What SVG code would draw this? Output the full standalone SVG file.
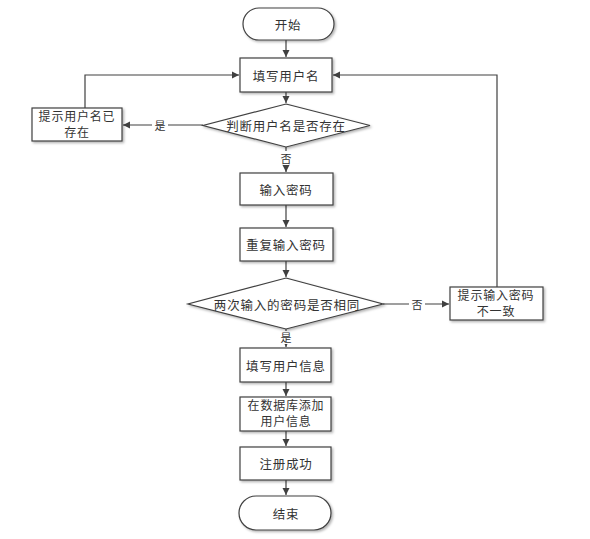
<svg xmlns="http://www.w3.org/2000/svg" width="590" height="539" viewBox="0 0 590 539">
<defs>
<marker id="arr" markerWidth="8" markerHeight="8" refX="7" refY="4" orient="auto" markerUnits="userSpaceOnUse">
<path d="M0,0.5 L7,4 L0,7.5 Z" fill="#404040"/>
</marker>
<filter id="sh" x="-10%" y="-10%" width="130%" height="140%">
<feDropShadow dx="1.5" dy="1.5" stdDeviation="0.8" flood-color="#000" flood-opacity="0.3"/>
</filter>
</defs>
<style>
.n{fill:#fff;stroke:#404040;stroke-width:1.2;filter:url(#sh)}
.t{font-family:"Noto Sans CJK SC","Liberation Sans",sans-serif;font-size:12.5px;fill:#333;text-anchor:middle;dominant-baseline:central;letter-spacing:0.8px}
.t2{font-family:"Noto Sans CJK SC","Liberation Sans",sans-serif;font-size:12px;fill:#333;text-anchor:middle;letter-spacing:0.8px}
.l{font-family:"Noto Sans CJK SC","Liberation Sans",sans-serif;font-size:11px;fill:#333;text-anchor:middle;dominant-baseline:central}
.c{fill:none;stroke:#404040;stroke-width:1.2}
</style>
<rect width="590" height="539" fill="#fff"/>
<g id="connectors">
<path class="c" d="M286,40 V57" marker-end="url(#arr)"/>
<path class="c" d="M286,92 V103" marker-end="url(#arr)"/>
<path class="c" d="M203,125 H123" marker-end="url(#arr)"/>
<path class="c" d="M85,108 V75 H239" marker-end="url(#arr)"/>
<path class="c" d="M286,147 V172" marker-end="url(#arr)"/>
<path class="c" d="M286,205 V227" marker-end="url(#arr)"/>
<path class="c" d="M286,261 V277" marker-end="url(#arr)"/>
<path class="c" d="M383,304 H449" marker-end="url(#arr)"/>
<path class="c" d="M497,287 V75 H333" marker-end="url(#arr)"/>
<path class="c" d="M286,329 V347" marker-end="url(#arr)"/>
<path class="c" d="M286,382 V396" marker-end="url(#arr)"/>
<path class="c" d="M286,431 V446" marker-end="url(#arr)"/>
<path class="c" d="M286,480 V495" marker-end="url(#arr)"/>
<rect x="152" y="118" width="16" height="14" fill="#fff"/>
<text class="l" x="160" y="125">是</text>
<rect x="279" y="151" width="14" height="14" fill="#fff"/>
<text class="l" x="286" y="158">否</text>
<rect x="409" y="297" width="16" height="14" fill="#fff"/>
<text class="l" x="417" y="304">否</text>
<rect x="279" y="331" width="14" height="13" fill="#fff"/>
<text class="l" x="286" y="337">是</text>
</g>
<g id="start">
<rect class="n" x="243" y="8" width="91" height="32" rx="16"/>
<text class="t" x="288" y="24">开始</text>
</g>
<g id="fill-username">
<rect class="n" x="240" y="58" width="92" height="34"/>
<text class="t" x="286" y="75">填写用户名</text>
</g>
<g id="check-username">
<polygon class="n" points="286,104 370,125.5 286,147 203,125.5"/>
<text class="t" x="286" y="125.5">判断用户名是否存在</text>
</g>
<g id="username-exists">
<rect class="n" x="32" y="108" width="90" height="33"/>
<text class="t2" x="77" y="121">提示用户名已</text>
<text class="t2" x="77" y="137">存在</text>
</g>
<g id="input-password">
<rect class="n" x="240" y="173" width="93" height="32"/>
<text class="t" x="286" y="189">输入密码</text>
</g>
<g id="repeat-password">
<rect class="n" x="240" y="228" width="93" height="33"/>
<text class="t" x="286" y="244.5">重复输入密码</text>
</g>
<g id="check-password">
<polygon class="n" points="286,278 383,304 286,329 188,304"/>
<text class="t" x="287" y="304">两次输入的密码是否相同</text>
</g>
<g id="password-mismatch">
<rect class="n" x="450" y="287" width="93" height="33"/>
<text class="t2" x="496" y="300">提示输入密码</text>
<text class="t2" x="496" y="316">不一致</text>
</g>
<g id="fill-userinfo">
<rect class="n" x="240" y="348" width="91" height="34"/>
<text class="t" x="286" y="365">填写用户信息</text>
</g>
<g id="db-add">
<rect class="n" x="240" y="397" width="91" height="34"/>
<text class="t2" x="286" y="410">在数据库添加</text>
<text class="t2" x="286" y="426">用户信息</text>
</g>
<g id="success">
<rect class="n" x="240" y="447" width="91" height="33"/>
<text class="t" x="286" y="463.5">注册成功</text>
</g>
<g id="end">
<rect class="n" x="239" y="496" width="92" height="34" rx="17"/>
<text class="t" x="286" y="513">结束</text>
</g>
</svg>
